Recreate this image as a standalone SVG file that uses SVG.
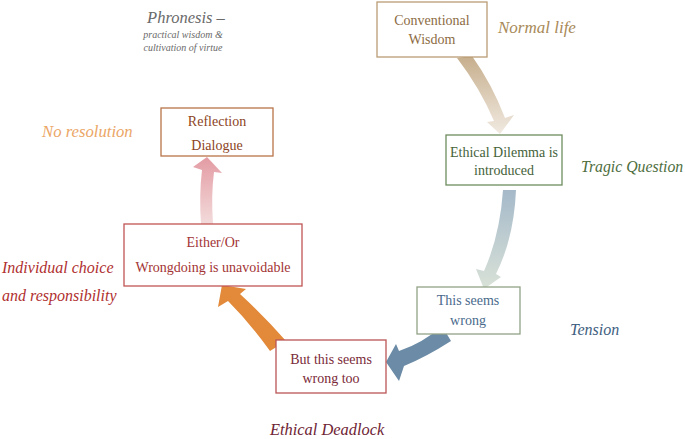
<svg xmlns="http://www.w3.org/2000/svg" width="685" height="439" viewBox="0 0 685 439">
<style>
text{font-family:'Liberation Serif','Times New Roman','DejaVu Serif',serif}
.box{fill:#fff;stroke-width:1.3}
.t{font-size:14px;text-anchor:middle}
.l{font-style:italic;font-size:16px}
.s{font-style:italic;font-size:10px;text-anchor:middle;fill:#6a6a6a}
</style>
<defs>
<linearGradient id="g1" x1="0" y1="56" x2="0" y2="134" gradientUnits="userSpaceOnUse"><stop offset="0" stop-color="#c6ae8c"/><stop offset="1" stop-color="#f1eae1"/></linearGradient>
<linearGradient id="g2" x1="0" y1="190" x2="0" y2="289" gradientUnits="userSpaceOnUse"><stop offset="0" stop-color="#a5b9c9"/><stop offset="1" stop-color="#d9e2d8"/></linearGradient>
<linearGradient id="g5" x1="0" y1="157" x2="0" y2="225" gradientUnits="userSpaceOnUse"><stop offset="0" stop-color="#e39ba3"/><stop offset="1" stop-color="#f3dcdc"/></linearGradient>
</defs>
<g id="connectors">
<path d="M457,58 L472,56 Q492,84 505,118 L514,115 L500,134 L487,122 L494,121 Q480,88 457,58 Z" fill="url(#g1)"/>
<path d="M503,190 L516,190 Q514,238 496,274 L501,277 L484,289 L476,269 L484,271 Q500,235 503,190 Z" fill="url(#g2)"/>
<path d="M442,326 L451,341 Q426,357 404,366 L399,381 L386,362 L396,344 L399,351 Q423,343 442,326 Z" fill="#6b8ba6"/>
<path d="M270,351 Q250,323 228,301 L218,307 L222,285 L246,289 L240,294 Q264,316 286,341 Z" fill="#e2893a"/>
<path d="M201,224 L213,224 Q211,195 214,172 L222,173 L207,157 L193,167 L202,170 Q199,195 201,224 Z" fill="url(#g5)"/>
</g>
<g id="phronesis">
<text class="l" x="186" y="23" text-anchor="middle" fill="#6a6a6a" style="font-size:16.5px">Phronesis –</text>
<text class="s" x="183" y="38">practical wisdom &amp;</text>
<text class="s" x="183" y="51">cultivation of virtue</text>
</g>
<g id="conventional">
<rect class="box" x="377" y="2" width="110" height="55" stroke="#bb9c74"/>
<text class="t" x="432" y="25" fill="#8c6c44">Conventional</text>
<text class="t" x="432" y="44" fill="#8c6c44">Wisdom</text>
<text class="l" x="498" y="33" fill="#a88a58" style="font-size:17px">Normal life</text>
</g>
<g id="dilemma">
<rect class="box" x="446" y="135" width="116" height="50" stroke="#6e8c5e"/>
<text class="t" x="504" y="157" fill="#45623a">Ethical Dilemma is</text>
<text class="t" x="504" y="175" fill="#45623a">introduced</text>
<text class="l" x="581" y="172" fill="#4e6e3e" style="font-size:15.8px">Tragic Question</text>
</g>
<g id="wrong">
<rect class="box" x="417" y="287" width="103" height="47" stroke="#92a286"/>
<text class="t" x="468" y="305" fill="#4a6a8c">This seems</text>
<text class="t" x="468" y="325" fill="#4a6a8c">wrong</text>
<text class="l" x="570" y="335" fill="#3e5e80">Tension</text>
</g>
<g id="wrongtoo">
<rect class="box" x="276" y="340" width="110" height="53" stroke="#bb5555"/>
<text class="t" x="331" y="364" fill="#7a2a38">But this seems</text>
<text class="t" x="331" y="383" fill="#7a2a38">wrong too</text>
<text class="l" x="270" y="435" fill="#6e2434" style="font-size:16.4px">Ethical Deadlock</text>
</g>
<g id="either">
<rect class="box" x="124" y="224" width="178" height="62" stroke="#c05555"/>
<text class="t" x="213" y="247" fill="#a33434">Either/Or</text>
<text class="t" x="213" y="272" fill="#a33434">Wrongdoing is unavoidable</text>
<text class="l" x="2" y="273" fill="#b03030">Individual choice</text>
<text class="l" x="2" y="301" fill="#b03030">and responsibility</text>
</g>
<g id="reflection">
<rect class="box" x="161" y="108" width="112" height="48" stroke="#b87448"/>
<text class="t" x="217" y="126" fill="#8c4424">Reflection</text>
<text class="t" x="217" y="150" fill="#8c4424">Dialogue</text>
<text class="l" x="42" y="137" fill="#eba666" style="font-size:16.7px">No resolution</text>
</g>
</svg>
